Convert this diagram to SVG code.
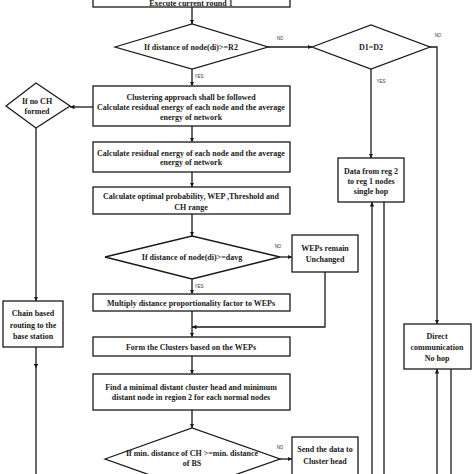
<svg xmlns="http://www.w3.org/2000/svg" width="474" height="474" viewBox="0 0 474 474">
<defs>
<marker id="ah" viewBox="0 0 10 10" refX="10" refY="5" markerWidth="4.5" markerHeight="4.5" orient="auto" markerUnits="userSpaceOnUse"><path d="M0,0 L10,5 L0,10 z" fill="#1a1a1a"/></marker>
<marker id="mid" viewBox="0 0 10 10" refX="5" refY="5" markerWidth="4.5" markerHeight="4.5" orient="auto" markerUnits="userSpaceOnUse"><path d="M0,0 L10,5 L0,10 z" fill="#1a1a1a"/></marker>
</defs>
<style>
.s{fill:#fff;stroke:#1a1a1a;stroke-width:1.3}
.t{font-family:"Liberation Serif","Times New Roman",serif;font-weight:bold;font-size:8px;fill:#1a1a1a;text-anchor:middle}
.l{font-family:"Liberation Sans",Arial,sans-serif;font-size:4.5px;fill:#333;text-anchor:middle}
.c{fill:none;stroke:#1a1a1a;stroke-width:1.3}
</style>
<rect width="474" height="474" fill="#fff"/>
<g id="connectors">
<path class="c" d="M192,7 V24" marker-end="url(#ah)"/>
<path class="c" d="M192,69 V86" marker-end="url(#ah)"/>
<path class="c" d="M268,47 H312" marker-end="url(#ah)"/>
<path class="c" d="M430,47 H437 V324" marker-end="url(#ah)"/>
<path class="c" d="M371,69 V158" marker-end="url(#ah)"/>
<path class="c" d="M93,107 H70" marker-end="url(#ah)"/>
<path class="c" d="M36,128 V301" marker-end="url(#ah)"/>
<path class="c" d="M36,347 V366 V474" marker-mid="url(#mid)"/>
<path class="c" d="M192,126 V142" marker-end="url(#ah)"/>
<path class="c" d="M192,172 V187" marker-end="url(#ah)"/>
<path class="c" d="M192,214 V236" marker-end="url(#ah)"/>
<path class="c" d="M280,257 H292" marker-end="url(#ah)"/>
<path class="c" d="M192,279 V294" marker-end="url(#ah)"/>
<path class="c" d="M192,311 V337" marker-end="url(#ah)"/>
<path class="c" d="M325,272 V327 H192" marker-end="url(#ah)"/>
<path class="c" d="M192,356 V374" marker-end="url(#ah)"/>
<path class="c" d="M192,410 V428" marker-end="url(#ah)"/>
<path class="c" d="M280,459 H292" marker-end="url(#ah)"/>
<path class="c" d="M372,474 V202" marker-end="url(#ah)"/>
<path class="c" d="M384,202 V474"/>
<path class="c" d="M437,474 V369" marker-end="url(#ah)"/>
<path class="c" d="M451,369 V474"/>
<text class="l" x="199" y="78">YES</text>
<text class="l" x="280" y="40">NO</text>
<text class="l" x="438" y="37">NO</text>
<text class="l" x="381" y="83">YES</text>
<text class="l" x="278" y="248">NO</text>
<text class="l" x="199" y="288">YES</text>
<text class="l" x="280" y="449">NO</text>
</g>
<g id="n-execute"><rect class="s" x="93" y="-10" width="197" height="17"/><text class="t" x="191" y="6">Execute current round  1</text></g>
<g id="n-dec1"><polygon class="s" points="115,47 192,24 268,47 192,69"/><text class="t" x="191" y="50">If distance of node(di)&gt;=R2</text></g>
<g id="n-d1d2"><polygon class="s" points="312,47 371,25 430,47 371,69"/><text class="t" x="371" y="50">D1=D2</text></g>
<g id="n-cluster"><rect class="s" x="93" y="86" width="197" height="40"/><text class="t" x="191" y="100">Clustering approach shall be followed</text><text class="t" x="191" y="110">Calculate residual energy of each node and the average</text><text class="t" x="191" y="120">energy of network</text></g>
<g id="n-noch"><polygon class="s" points="6,106 36,83 70,106 36,128"/><text class="t" x="37" y="104">If no CH</text><text class="t" x="37" y="114">formed</text></g>
<g id="n-resid"><rect class="s" x="93" y="142" width="197" height="30"/><text class="t" x="191" y="156">Calculate residual energy of each node and the average</text><text class="t" x="191" y="165">energy of network</text></g>
<g id="n-optimal"><rect class="s" x="93" y="187" width="197" height="27"/><text class="t" x="191" y="199">Calculate optimal probability, WEP ,Threshold and</text><text class="t" x="191" y="210">CH range</text></g>
<g id="n-data"><rect class="s" x="338" y="158" width="66" height="44"/><text class="t" x="371" y="174">Data from reg 2</text><text class="t" x="371" y="184">to reg 1 nodes</text><text class="t" x="371" y="194">single hop</text></g>
<g id="n-dec2"><polygon class="s" points="105,257 192,236 280,257 192,279"/><text class="t" x="192" y="260">If distance of node(di)&gt;=davg</text></g>
<g id="n-weps"><rect class="s" x="292" y="235" width="66" height="37"/><text class="t" x="325" y="251">WEPs remain</text><text class="t" x="325" y="262">Unchanged</text></g>
<g id="n-multiply"><rect class="s" x="93" y="294" width="197" height="17"/><text class="t" x="191" y="306">Multiply distance proportionality factor to WEPs</text></g>
<g id="n-chain"><rect class="s" x="3" y="301" width="60" height="46"/><text class="t" x="33" y="316">Chain based</text><text class="t" x="33" y="328">routing to the</text><text class="t" x="33" y="339">base station</text></g>
<g id="n-direct"><rect class="s" x="404" y="324" width="67" height="45"/><text class="t" x="437" y="339">Direct</text><text class="t" x="437" y="350">communication</text><text class="t" x="437" y="361">No hop</text></g>
<g id="n-form"><rect class="s" x="93" y="337" width="197" height="19"/><text class="t" x="191" y="350">Form the Clusters  based on the WEPs</text></g>
<g id="n-find"><rect class="s" x="93" y="374" width="197" height="36"/><text class="t" x="191" y="390">Find a minimal distant cluster head and minimum</text><text class="t" x="191" y="400">distant node in region 2 for each normal nodes</text></g>
<g id="n-dec3"><polygon class="s" points="105,459 192,428 280,459 192,490"/><text class="t" x="192" y="456">If min. distance of CH &gt;=min. distance</text><text class="t" x="192" y="466">of BS</text></g>
<g id="n-send"><rect class="s" x="292" y="437" width="66" height="45"/><text class="t" x="325" y="452">Send the data to</text><text class="t" x="325" y="464">Cluster head</text></g>
</svg>
